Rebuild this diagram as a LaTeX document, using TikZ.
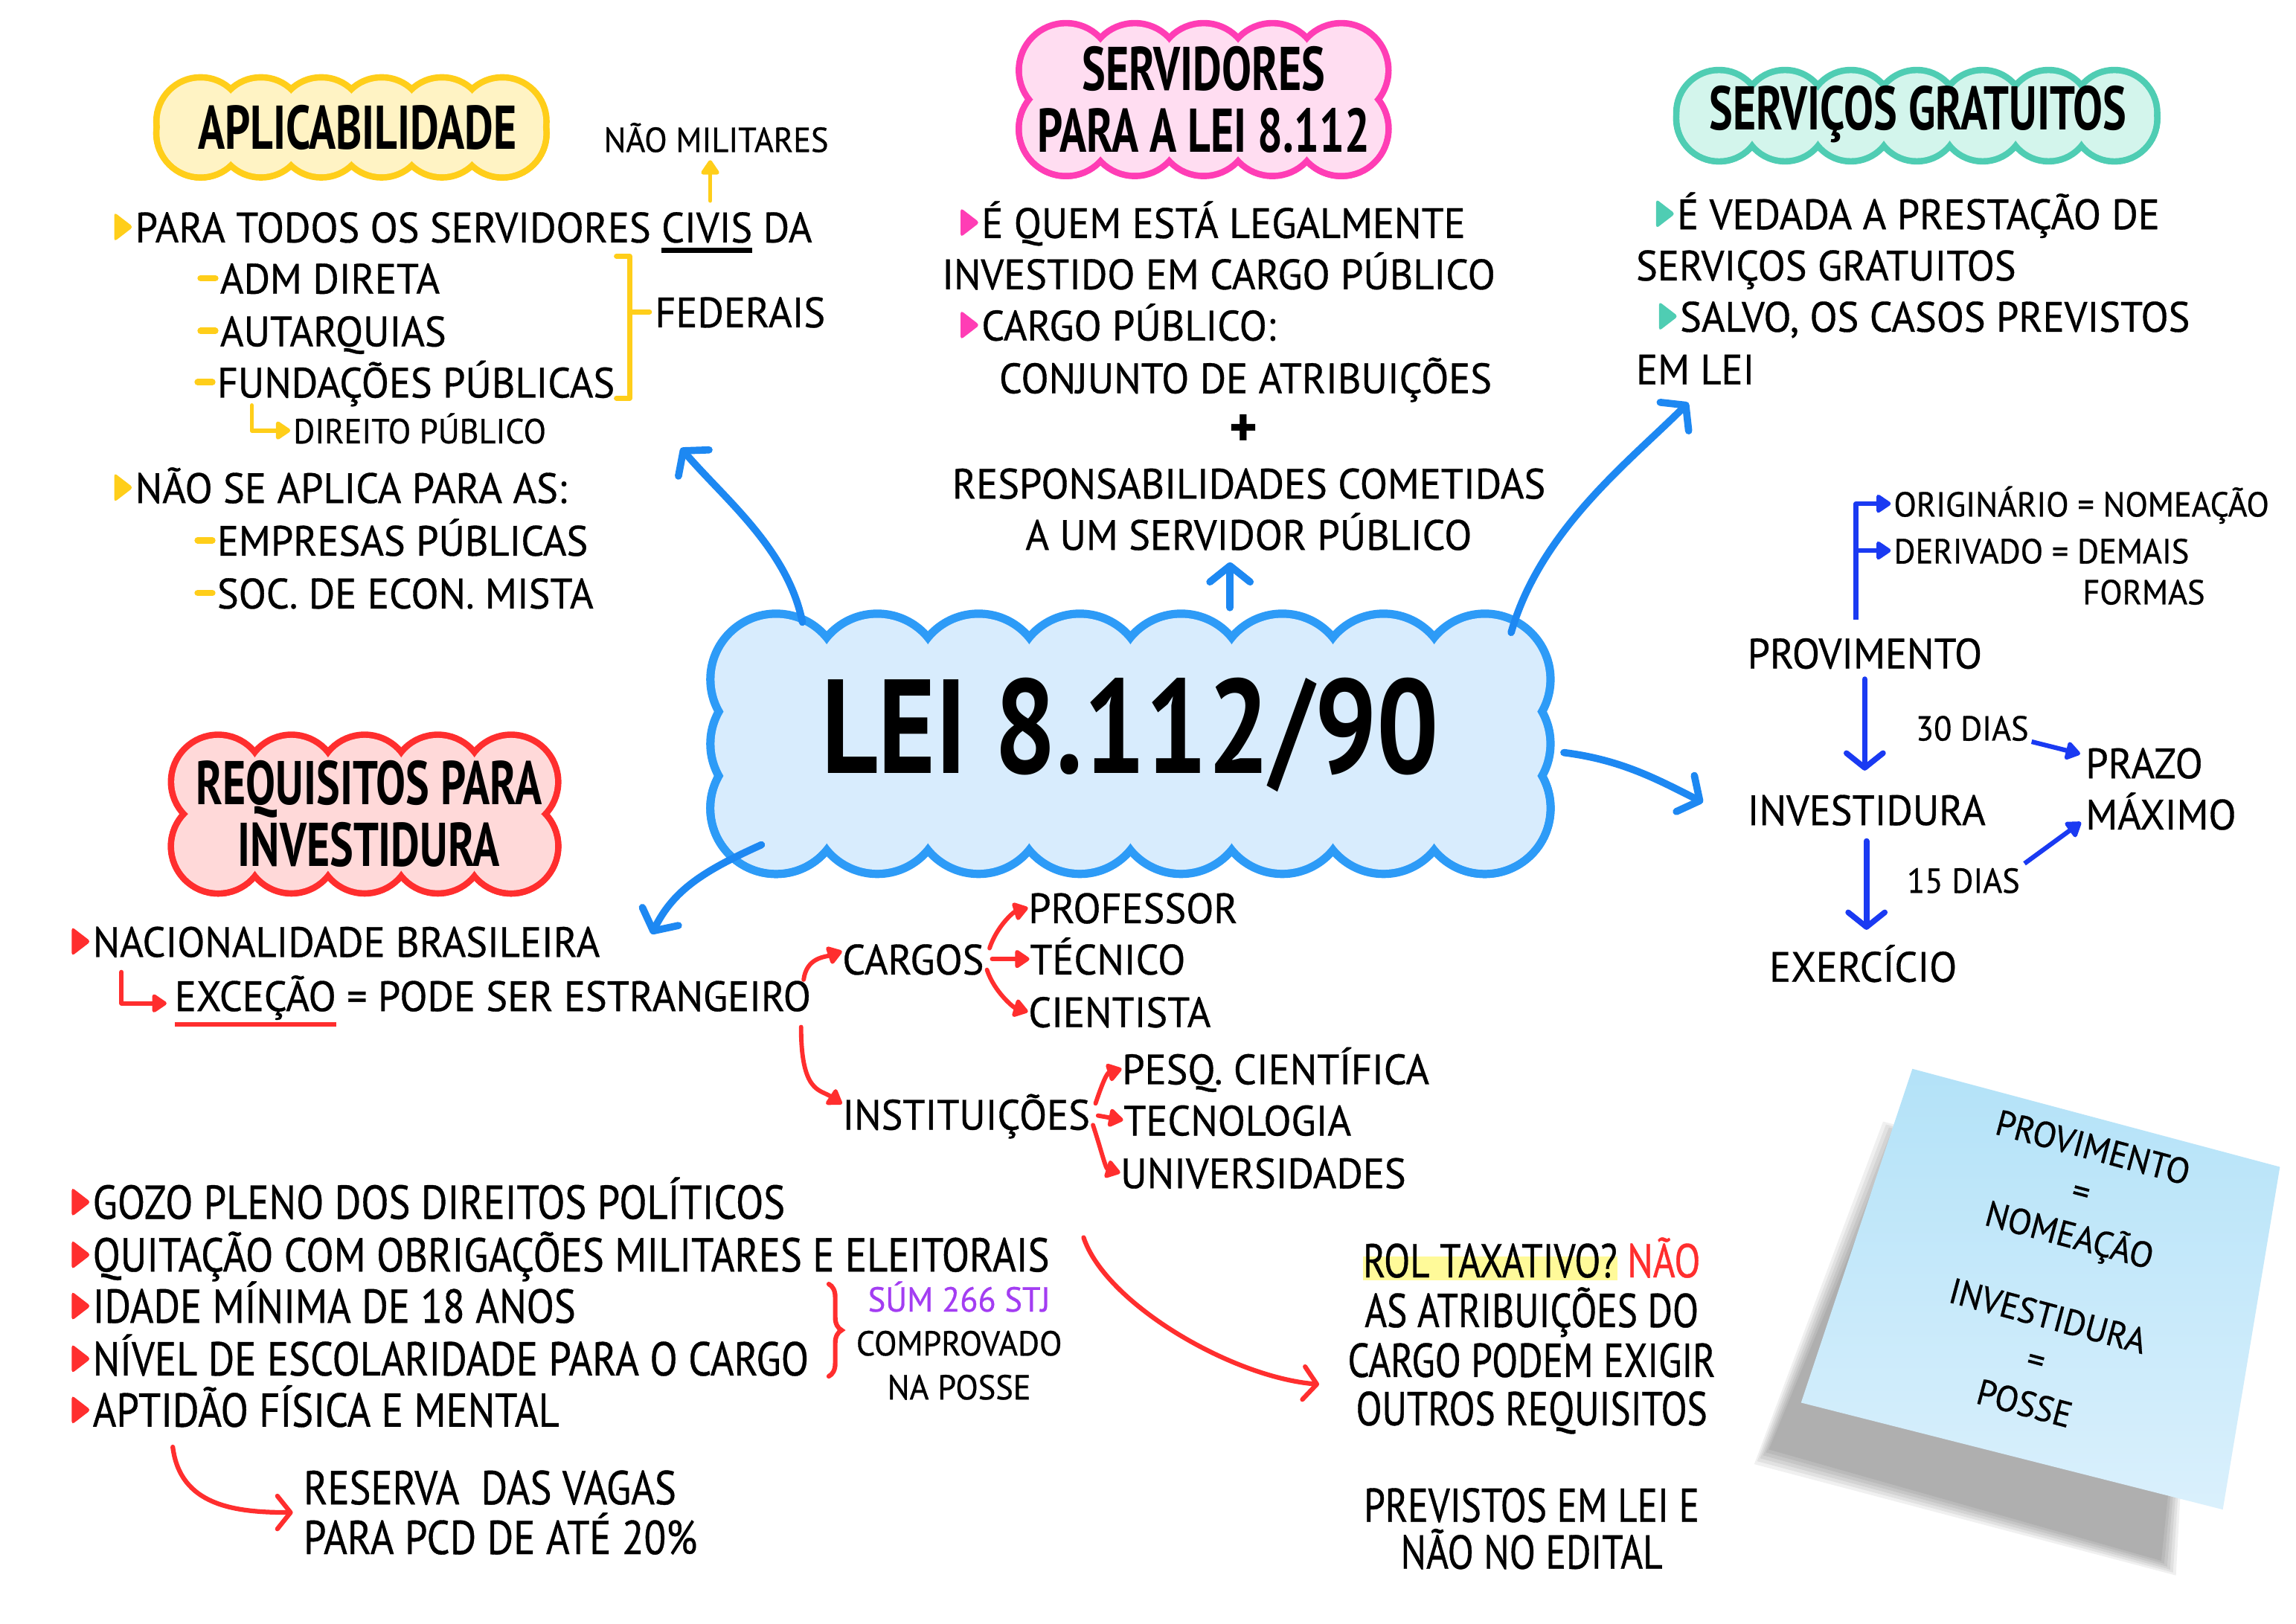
\documentclass[tikz,border=0pt]{standalone}
\usepackage{fontspec}
\setmainfont{PT Sans}[FakeStretch=0.95, FakeBold=0.6]
\newfontfamily\headfont{PT Sans}[FakeStretch=0.72]
\newfontfamily\titlefont{PT Sans}[FakeStretch=0.82]
\newfontfamily\reqfont{PT Sans}[FakeStretch=0.8, FakeBold=0.6]
\newfontfamily\reqwide{PT Sans}[FakeStretch=0.85, FakeBold=0.6]
\usetikzlibrary{arrows.meta, positioning, calc, decorations.pathreplacing}

\definecolor{ylwline}{HTML}{FFCE1A}
\definecolor{ylwfill}{HTML}{FFF3C4}
\definecolor{pinkline}{HTML}{FF3DB5}
\definecolor{pinkfill}{HTML}{FFDDF1}
\definecolor{tealline}{HTML}{4FCDB3}
\definecolor{tealfill}{HTML}{D3F5EC}
\definecolor{redline}{HTML}{FF2E2E}
\definecolor{redfill}{HTML}{FFD9D9}
\definecolor{cloudline}{HTML}{2D9BF7}
\definecolor{cloudfill}{HTML}{D8ECFD}
\definecolor{arrowblue}{HTML}{1D88F2}
\definecolor{deepblue}{HTML}{1A3AF2}
\definecolor{purp}{HTML}{A33DF2}
\definecolor{hilite}{HTML}{FFFA99}
\definecolor{notetop}{HTML}{B3E2F8}
\definecolor{notebot}{HTML}{DAF0FC}

% underline and highlight marks
\newcommand{\markunder}[3]{\setbox0\hbox{#3}\rlap{\color{#1}\rule[#2]{\wd0}{1.8pt}}\box0\relax}
\newcommand{\hlmark}[1]{\setbox0\hbox{#1}\rlap{\color{hilite}\rule[-1pt]{\wd0}{9pt}}\box0\relax}

% bumpy cloud: centre x, centre y, half width, half height, bump radius, fill, line, 2 x border
\newcommand{\cloudblob}[8]{%
  \pgfmathsetmacro{\ca}{#3-#5}%
  \pgfmathsetmacro{\cb}{#4-#5}%
  \pgfmathtruncatemacro{\cnx}{max(1,ceil(2*\ca/(1.7*#5)))}%
  \pgfmathtruncatemacro{\cny}{max(1,ceil(2*\cb/(1.7*#5)))}%
  \foreach \k in {1,2}{%
    \ifnum\k=1 \tikzset{blob/.style={draw=#7, line width=#8}}%
    \else \tikzset{blob/.style={fill=#6}}\fill[#6] ({#1-\ca},{#2-\cb}) rectangle ({#1+\ca},{#2+\cb});\fi
    \foreach \i in {0,...,\cnx}{%
      \path[blob] ({#1-\ca+2*\ca*\i/\cnx},{#2-\cb}) circle[radius=#5];
      \path[blob] ({#1-\ca+2*\ca*\i/\cnx},{#2+\cb}) circle[radius=#5];}%
    \foreach \j in {1,...,\cny}{%
      \path[blob] ({#1-\ca},{#2-\cb+2*\cb*\j/\cny}) circle[radius=#5];
      \path[blob] ({#1+\ca},{#2-\cb+2*\cb*\j/\cny}) circle[radius=#5];}%
  }%
}

\begin{document}
\begin{tikzpicture}[
    x=0.02cm, y=-0.02cm,
    txt/.style={anchor=west, inner sep=0pt, text height=12pt, text depth=0pt, font=\fontsize{16.5}{20}\selectfont},
    small/.style={txt, text height=10pt, font=\fontsize{13.5}{17}\selectfont},
    csmall/.style={small, anchor=center},
    reqtxt/.style={txt, text height=13pt, font=\reqwide\fontsize{18.5}{22}\selectfont},
    creq/.style={txt, anchor=center, text height=13pt, font=\reqfont\fontsize{18.5}{22}\selectfont},
    notetxt/.style={anchor=center, inner sep=0pt, rotate=-15, align=center, font=\fontsize{14}{17.6}\selectfont},
    hdtext/.style={inner sep=0pt, align=center, font=\headfont\bfseries\fontsize{24}{24}\selectfont},
    bigarrow/.style={draw=arrowblue, line width=2.8pt, line cap=round, -{Straight Barb[length=2.2mm, width=5.5mm, line cap=round, line join=round]}},
    dbdown/.style={draw=deepblue, line width=2.2pt, line cap=round, -{Straight Barb[length=2mm, width=5mm, line cap=round, line join=round]}},
    dbarrow/.style={draw=deepblue, line width=1.8pt, -{Triangle[length=2.2mm, width=2.8mm, round]}},
    rarrow/.style={draw=redline, line width=1.7pt, line cap=round, -{Triangle[length=2.2mm, width=2.8mm, round]}},
    rcurve/.style={draw=redline, line width=1.8pt, line cap=round, -{Straight Barb[length=1.8mm, width=4.5mm, line cap=round, line join=round]}},
    yarrow/.style={draw=ylwline, line width=1.7pt, line cap=round, -{Triangle[length=2.2mm, width=2.8mm, round]}},
    ydash/.style={draw=ylwline, line width=2.5pt, line cap=round},
    bul/.pic={\fill[pic actions, rounded corners=1.2pt] (-12,-10) -- (1,0) -- (-12,10) -- cycle;}
]
\fill[white] (0,0) rectangle (1568,1109);
\useasboundingbox (0,0) rectangle (1568,1109);

% ============ CENTRAL CLOUD ============
\cloudblob{772}{508}{284}{86}{42}{cloudfill}{cloudline}{6.5pt}
\node[inner sep=0pt, font=\titlefont\bfseries\fontsize{52}{60}\selectfont] (lei) at (772,502) {LEI 8.112/90};

% ============ APLICABILIDADE ============
\cloudblob{240}{87}{131}{32}{28}{ylwfill}{ylwline}{5pt}
\node[hdtext] (hdApl) at (244,87) {APLICABILIDADE};

\node[txt] (aAll) at (92,155) {PARA TODOS OS SERVIDORES \markunder{black}{-4pt}{CIVIS} DA};
\node[small] (nMil) at (412,95) {NÃO MILITARES};
\node[txt] (adm) at (150,190) {ADM DIRETA};
\node[txt] (aut) at (150,226) {AUTARQUIAS};
\node[txt] (fund) at (148,261) {FUNDAÇÕES PÚBLICAS};
\node[txt] (fed) at (447,213) {FEDERAIS};
\node[small] (dirp) at (200,294) {DIREITO PÚBLICO};
\node[txt] (naoAp) at (92,333) {NÃO SE APLICA PARA AS:};
\node[txt] (emp) at (148,369) {EMPRESAS PÚBLICAS};
\node[txt] (soc) at (148,405) {SOC. DE ECON. MISTA};

\pic[fill=ylwline] at ($(aAll.west)+(-2,0)$) {bul};
\pic[fill=ylwline] at ($(naoAp.west)+(-2,0)$) {bul};
\foreach \n in {adm, aut, fund, emp, soc}
    \draw[ydash] ($(\n.west)+(-3,0)$) -- ++(-10,0);

\coordinate (civis) at (485,137);
\draw[yarrow] (civis) -- ([yshift=-3pt]civis |- nMil.south);
\draw[ydash, line width=2pt, line cap=round, line join=round]
    (421,175) -- (430,175) -- (430,272) -- (421,272);
\draw[ydash, line width=2pt] (430,213) -- ([xshift=-2pt]fed.west);
\draw[yarrow, line join=round] ($(fund.south west)+(24,5)$) |- ([xshift=-1pt]dirp.west);

% ============ SERVIDORES ============
\cloudblob{822}{68}{124}{50}{30}{pinkfill}{pinkline}{5pt}
\node[hdtext] (hdSrv) at (822,68) {SERVIDORES\\PARA A LEI 8.112};

\node[txt] (s1) at (670,152) {É QUEM ESTÁ LEGALMENTE};
\node[txt] (s2) at (643,187) {INVESTIDO EM CARGO PÚBLICO};
\node[txt] (s3) at (670,222) {CARGO PÚBLICO:};
\node[txt] (s4) at (682,258) {CONJUNTO DE ATRIBUIÇÕES};
\node[inner sep=0pt, font=\bfseries\fontsize{22}{22}\selectfont] (plus) at (849,294) {+};
\node[txt] (s5) at (650,330) {RESPONSABILIDADES COMETIDAS};
\node[txt] (s6) at (700,365) {A UM SERVIDOR PÚBLICO};
\pic[fill=pinkline] at ($(s1.west)+(-2,0)$) {bul};
\pic[fill=pinkline] at ($(s3.west)+(-2,0)$) {bul};

% ============ SERVICOS GRATUITOS ============
\cloudblob{1309}{79}{162}{29}{27}{tealfill}{tealline}{5pt}
\node[hdtext] (hdGrat) at (1310,78) {SERVIÇOS GRATUITOS};

\node[txt] (g1) at (1145,146) {É VEDADA A PRESTAÇÃO DE};
\node[txt] (g2) at (1117,181) {SERVIÇOS GRATUITOS};
\node[txt] (g3) at (1147,216) {SALVO, OS CASOS PREVISTOS};
\node[txt] (g4) at (1117,252) {EM LEI};
\pic[fill=tealline] at ($(g1.west)+(-2,0)$) {bul};
\pic[fill=tealline] at ($(g3.west)+(-2,0)$) {bul};

% ============ PROVIMENTO ============
\node[txt] (prov) at (1193,446) {PROVIMENTO};
\node[txt] (inv) at (1193,553) {INVESTIDURA};
\node[txt] (exer) at (1208,660) {EXERCÍCIO};
\node[small] (orig) at (1293,344) {ORIGINÁRIO = NOMEAÇÃO};
\node[small] (deriv) at (1293,376) {DERIVADO = DEMAIS};
\node[small] (formas) at (1422,404) {FORMAS};
\node[small] (d30) at (1308,497) {30 DIAS};
\node[small] (d15) at (1302,601) {15 DIAS};
\node[txt] (prazo) at (1424,521) {PRAZO};
\node[txt] (maximo) at (1424,556) {MÁXIMO};

\coordinate (provTop) at ([shift={(-6,-12)}]prov.north);
\draw[dbarrow, line join=round, shorten >=1pt] (provTop) |- (orig.west);
\draw[dbarrow, shorten >=1pt] (provTop |- deriv.west) -- (deriv.west);
\draw[dbdown, shorten <=4pt, shorten >=9pt] (prov.south) -- (prov.south |- inv.north);
\draw[dbdown, shorten <=6pt, shorten >=8pt] (inv.south) -- (inv.south |- exer.north);
\draw[dbarrow, shorten <=1pt, shorten >=2pt] (d30.south east) -- ([yshift=3pt]prazo.west);
\draw[dbarrow, shorten <=2pt, shorten >=2pt] (d15.north east) -- ([yshift=-2pt]maximo.west);

% ============ REQUISITOS ============
\cloudblob{249}{556}{130}{52}{30}{redfill}{redline}{5pt}
\node[hdtext] (hdReq) at (252,556) {REQUISITOS PARA\\INVESTIDURA};

\node[txt] (nac) at (63,643) {NACIONALIDADE BRASILEIRA};
\node[txt] (exc) at (119,680) {\markunder{redline}{-6pt}{EXCEÇÃO} = PODE SER ESTRANGEIRO};
\pic[fill=redline] at ($(nac.west)+(-2,0)$) {bul};
\draw[rarrow, line join=round] ($(nac.south west)+(20,10)$) |- ([xshift=-3pt, yshift=-3pt]exc.west);

\node[txt] (cargos) at (575,655) {CARGOS};
\node[txt] (prof) at (702,620) {PROFESSOR};
\node[txt] (tec) at (703,655) {TÉCNICO};
\node[txt] (cient) at (702,691) {CIENTISTA};
\node[txt] (inst) at (575,761) {INSTITUIÇÕES};
\node[txt] (pesq) at (766,730) {PESQ. CIENTÍFICA};
\node[txt] (tecn) at (767,765) {TECNOLOGIA};
\node[txt] (univ) at (765,801) {UNIVERSIDADES};

\draw[rarrow] ([xshift=-3pt]exc.north east) .. controls +(2,-15) and +(-12,4) .. ([yshift=3pt]cargos.west);
\draw[rarrow] ([xshift=-4pt, yshift=-6pt]exc.south east) .. controls +(0,45) and +(-15,-10) .. ([yshift=4pt]inst.west);
\draw[rarrow] ([xshift=2pt, yshift=-2pt]cargos.north east) .. controls +(5,-15) and +(-10,3) .. (prof.west);
\draw[rarrow, shorten <=3pt] (cargos.east) -- (tec.west);
\draw[rarrow] ([xshift=1pt, yshift=2pt]cargos.south east) .. controls +(5,15) and +(-10,-3) .. (cient.west);
\draw[rarrow] ([xshift=2pt, yshift=-2pt]inst.north east) .. controls +(5,-15) and +(-10,3) .. (pesq.west);
\draw[rarrow, shorten <=3pt] (inst.east) -- (tecn.west);
\draw[rarrow] ([xshift=1pt, yshift=2pt]inst.south east) .. controls +(5,15) and +(-10,-3) .. (univ.west);

\node[reqtxt] (gozo) at (63,821) {GOZO PLENO DOS DIREITOS POLÍTICOS};
\node[reqtxt] (quit) at (63,857) {QUITAÇÃO COM OBRIGAÇÕES MILITARES E ELEITORAIS};
\node[reqtxt] (idade) at (63,892) {IDADE MÍNIMA DE 18 ANOS};
\node[reqtxt] (nivel) at (63,928) {NÍVEL DE ESCOLARIDADE PARA O CARGO};
\node[reqtxt] (aptid) at (63,963) {APTIDÃO FÍSICA E MENTAL};
\foreach \n in {gozo, quit, idade, nivel, aptid}
    \pic[fill=redline] at ($(\n.west)+(-2,0)$) {bul};

\coordinate (brTop) at (566,877);
\coordinate (brBot) at (566,940);
\draw[draw=redline, line width=1.8pt, line cap=round, decorate, decoration={brace, amplitude=5pt}] (brTop) -- (brBot);
\node[csmall, text=purp] (sum) at (655,887) {SÚM 266 STJ};
\node[csmall] (comp) at (655,917) {COMPROVADO};
\node[csmall] (naposse) at (655,947) {NA POSSE};

\node[reqtxt] (res1) at (207,1016) {RESERVA\ \ DAS VAGAS};
\node[reqtxt] (res2) at (207,1050) {PARA PCD DE ATÉ 20\%};
\draw[rcurve] ([shift={(1.1cm,-0.27cm)}]aptid.south west) .. controls +(5,40) and +(-40,0) .. ($(res1.west)!0.5!(res2.west)+(-7,0)$);

% ============ ROL TAXATIVO ============
\node[creq] (rol1) at (1046,861) {\hlmark{ROL TAXATIVO?} \textcolor{redline}{NÃO}};
\node[creq] (rol2) at (1046,895) {AS ATRIBUIÇÕES DO};
\node[creq] (rol3) at (1046,929) {CARGO PODEM EXIGIR};
\node[creq] (rol4) at (1046,962) {OUTROS REQUISITOS};
\node[creq] (prev1) at (1046,1028) {PREVISTOS EM LEI E};
\node[creq] (prev2) at (1046,1060) {NÃO NO EDITAL};
\draw[rcurve] ([xshift=0.46cm]quit.north east) .. controls +(15,45) and +(-60,-5) .. ($(rol3.west)!0.5!(rol4.west)+(-22,0)$);

% ============ STICKY NOTE ============
\foreach \s in {0,2,4,6,8,10}
    \fill[black, opacity=0.06] ($(1296,776)+(-\s,-\s)$) -- ($(1500,832)+(0,-\s)$) -- ($(1476,1066)+(\s,\s)$) -- ($(1208,990)+(-\s,\s)$) -- cycle;
\shade[top color=notetop, bottom color=notebot] (1306,730) -- (1557,797) -- (1518,1031) -- (1230,958) -- cycle;
\node[notetxt] (noteTxt) at (1406,871) {PROVIMENTO\\=\\NOMEAÇÃO\\[15pt]INVESTIDURA\\=\\POSSE};

% ============ MAIN CONNECTIONS ============
\coordinate (aplEnd) at (465,306);
\coordinate (srvEnd) at (840,384);
\coordinate (gratEnd) at (1153,275);
\coordinate (provEnd) at (1163,548);
\coordinate (reqEnd) at (445,638);
\draw[bigarrow] ($(lei.center)+(-224,-77)$) .. controls +(-10,-50) and +(30,35) .. (aplEnd);
\draw[bigarrow] ($(lei.center)+(68,-87)$) -- (srvEnd);
\draw[bigarrow] ($(lei.center)+(260,-70)$) .. controls +(20,-70) and +(-40,40) .. (gratEnd);
\draw[bigarrow] ($(lei.center)+(296,12)$) .. controls +(40,5) and +(-30,-15) .. (provEnd);
\draw[bigarrow] ($(lei.center)+(-252,75)$) .. controls +(-40,18) and +(15,-30) .. (reqEnd);

\end{tikzpicture}
\end{document}
